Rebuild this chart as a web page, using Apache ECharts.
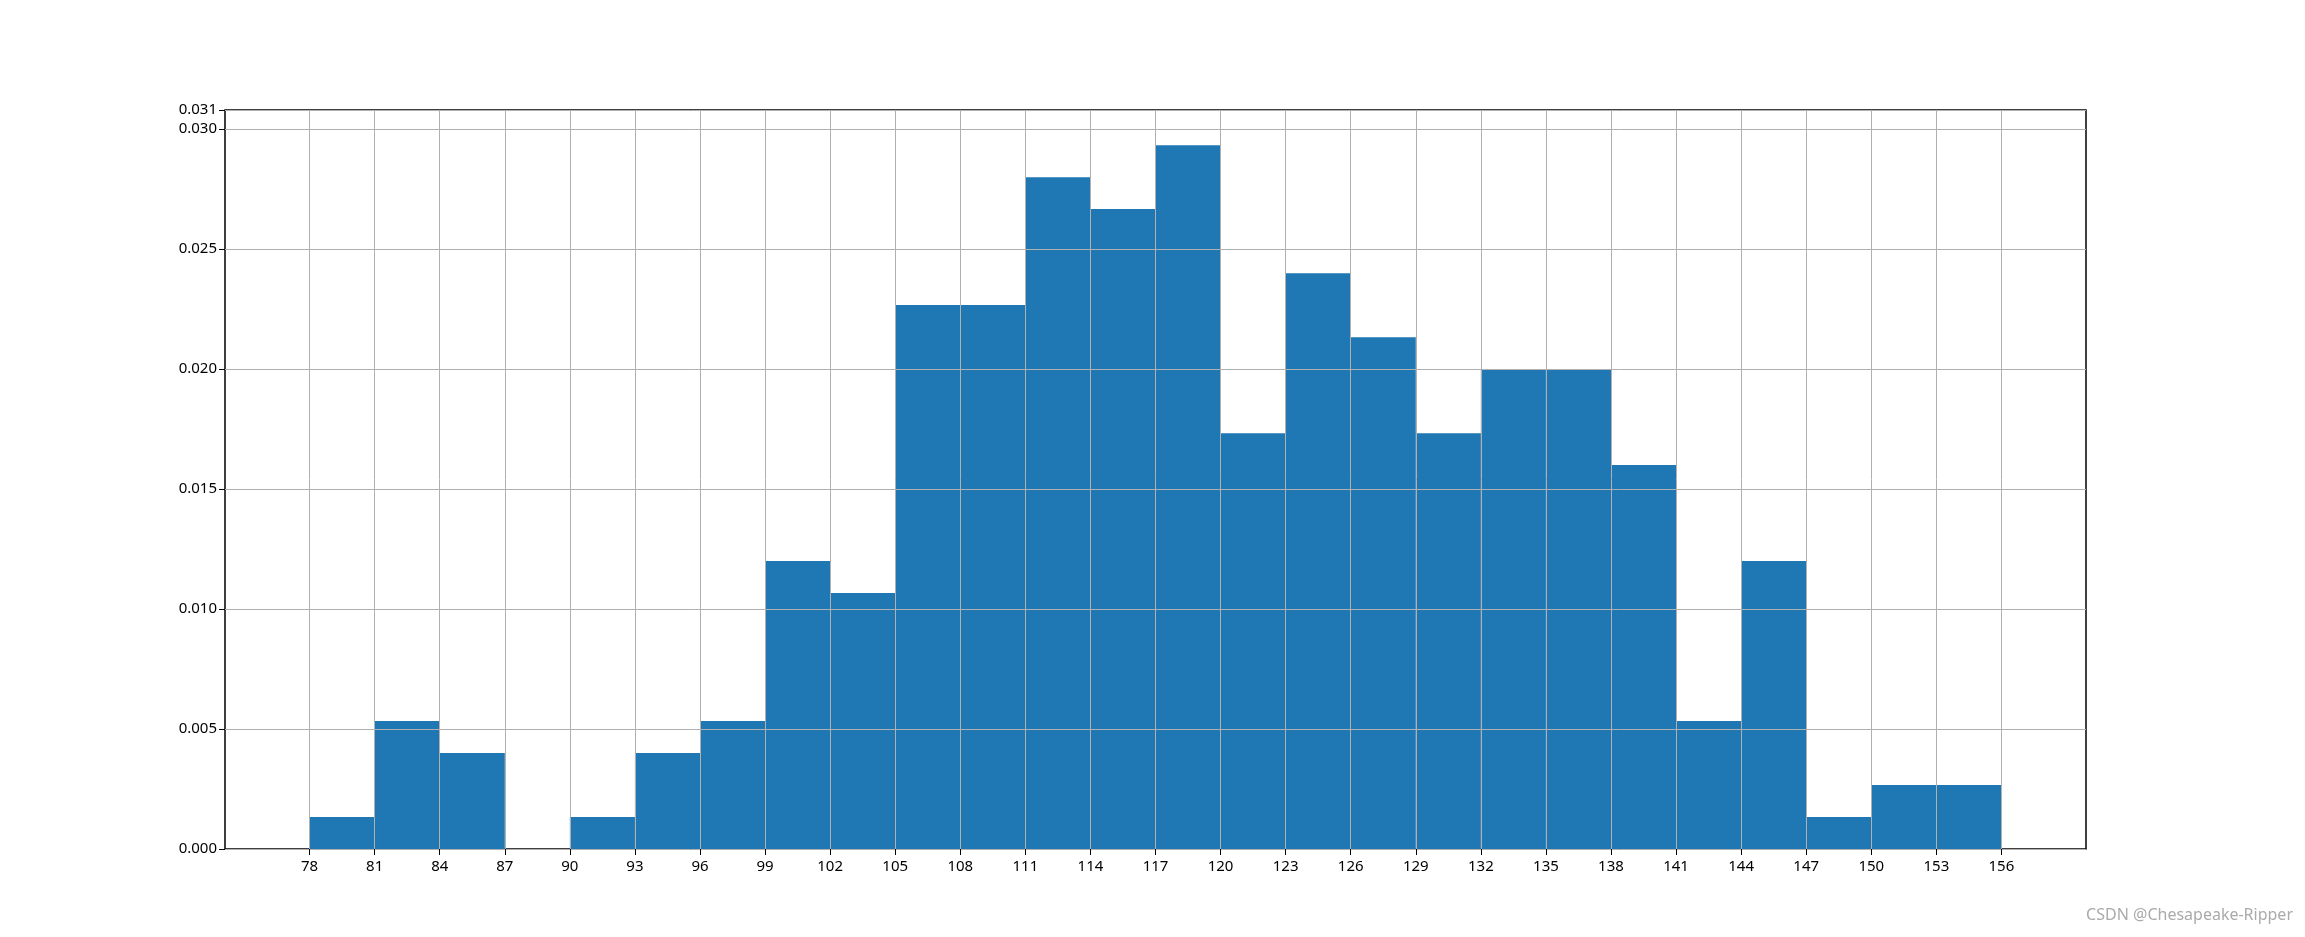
<!DOCTYPE html>
<html>
<head>
<meta charset="utf-8">
<script src="https://cdn.jsdelivr.net/npm/echarts@6/dist/echarts.min.js"></script>
<style>html,body{margin:0;padding:0;background:#fff}#main{width:2305px;height:937px}</style>
</head>
<body>
<div id="main"></div>
<script>
// histogram bins (width 3), density values (counts / 750)
var binStart = [78, 81, 84, 87, 90, 93, 96, 99, 102, 105, 108, 111, 114, 117, 120, 123, 126, 129, 132, 135, 138, 141, 144, 147, 150, 153];
var density = [0.00133, 0.00533, 0.004, 0, 0.00133, 0.004, 0.00533, 0.012, 0.01067, 0.02267, 0.02267, 0.028, 0.02667, 0.02933,
  0.01733, 0.024, 0.02133, 0.01733, 0.02, 0.02, 0.016, 0.00533, 0.012, 0.00133, 0.00267, 0.00267];
var xTicks = [78, 81, 84, 87, 90, 93, 96, 99, 102, 105, 108, 111, 114, 117, 120, 123, 126, 129, 132, 135, 138, 141, 144, 147, 150, 153, 156];
var binWidth = 3;

var chart = echarts.init(document.getElementById('main'));
var data = binStart.map(function (s, i) { return [s, s + binWidth, density[i]]; });

var option = {
  animation: false,
  textStyle: { fontFamily: 'Noto Sans' },
  grid: { left: 225, right: 219, top: 110, bottom: 88, show: true, borderColor: '#000', borderWidth: 1.5 },
  xAxis: {
    type: 'value', min: 74.1, max: 159.9, z: 5,
    axisLine: { show: false },
    axisTick: { show: true, customValues: xTicks, length: 6, lineStyle: { color: '#000' } },
    axisLabel: { customValues: xTicks, color: '#000', fontSize: 15, margin: 10 },
    splitLine: { show: true, lineStyle: { color: '#b0b0b0', width: 1 } }
  },
  yAxis: {
    type: 'value', min: 0, max: 0.0308, interval: 0.005, z: 5,
    axisLine: { show: false },
    axisTick: { show: true, length: 6, lineStyle: { color: '#000' } },
    axisLabel: { color: '#000', fontSize: 15, formatter: function (v) { return v.toFixed(3); } },
    splitLine: { show: true, lineStyle: { color: '#b0b0b0', width: 1 } }
  },
  graphic: [{
    type: 'text', right: 12, bottom: 14,
    style: { text: 'CSDN @Chesapeake-Ripper', fill: '#aaa', font: '16px "Noto Sans"' }
  }],
  series: [{
    type: 'custom',
    z: 2,
    data: data,
    encode: { x: [0, 1], y: 2 },
    renderItem: function (params, api) {
      var p0 = api.coord([api.value(0), 0]);
      var p1 = api.coord([api.value(1), api.value(2)]);
      return {
        type: 'rect',
        shape: { x: p0[0], y: p1[1], width: p1[0] - p0[0], height: p0[1] - p1[1] },
        style: { fill: '#1f77b4' }
      };
    }
  }]
};
chart.setOption(option);
</script>
</body>
</html>
